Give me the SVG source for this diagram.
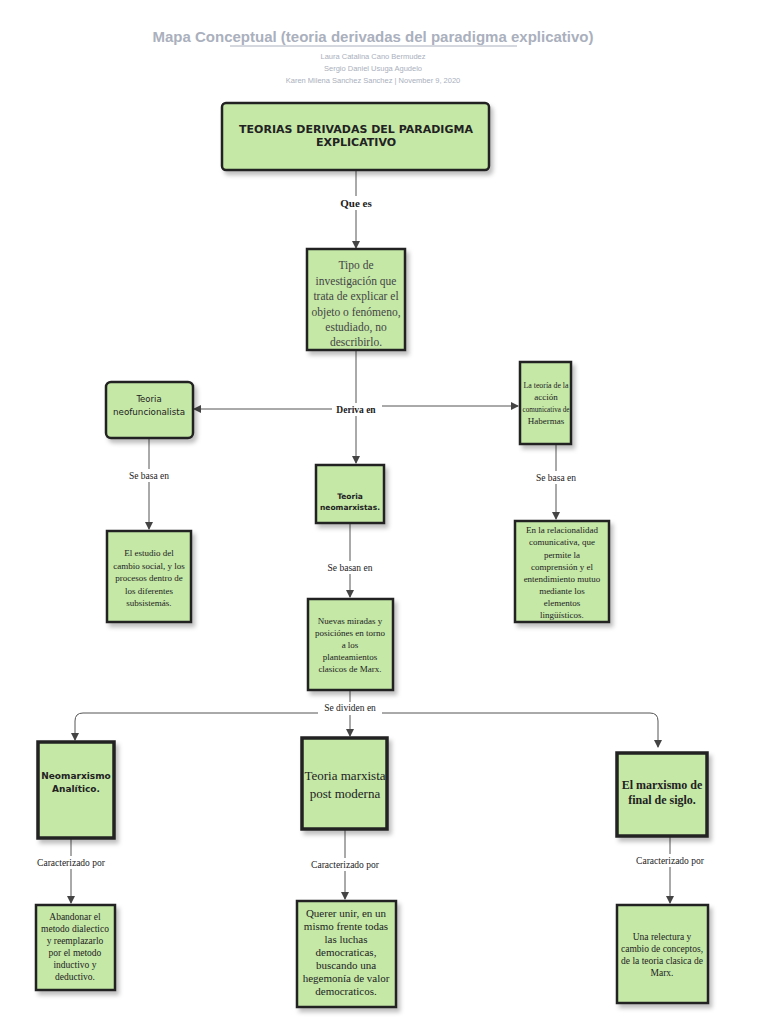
<svg xmlns="http://www.w3.org/2000/svg" width="768" height="1024" viewBox="0 0 768 1024">
<defs>
<marker id="ah" markerWidth="8" markerHeight="8" refX="7" refY="4" orient="auto" markerUnits="userSpaceOnUse"><path d="M0,0 L8,4 L0,8 z" fill="#444"/></marker>
<filter id="sh" x="-10%" y="-10%" width="130%" height="130%"><feDropShadow dx="3" dy="4" stdDeviation="2" flood-color="#000" flood-opacity="0.25"/></filter>
</defs>
<style>
.box{fill:#c5e8a7;stroke:#222;stroke-width:2.5;filter:url(#sh)}
.thick{stroke-width:3.5}
.t{font-family:"Liberation Serif",serif;fill:#222;text-anchor:middle}
.s{font-family:"DejaVu Sans",sans-serif;fill:#222;text-anchor:middle}
.lbl{font-family:"Liberation Serif",serif;fill:#222;text-anchor:middle}
.c{stroke:#555;stroke-width:1;fill:none}
.a{marker-end:url(#ah)}
.lbg{fill:#fff}
</style>
<rect width="768" height="1024" fill="#fff"/>
<g id="header">
<text x="373" y="42" font-family="Liberation Sans,sans-serif" font-size="15" font-weight="bold" fill="#aab0bd" text-anchor="middle">Mapa Conceptual (teoria derivadas del paradigma explicativo)</text>
<line x1="230" y1="46" x2="517" y2="46" stroke="#aab0bd" stroke-width="1"/>
<text x="373" y="59" font-family="Liberation Sans,sans-serif" font-size="7.5" fill="#aab0bd" text-anchor="middle">Laura Catalina Cano Bermudez</text>
<text x="373" y="71" font-family="Liberation Sans,sans-serif" font-size="7.5" fill="#aab0bd" text-anchor="middle">Sergio Daniel Usuga Agudelo</text>
<text x="373" y="83" font-family="Liberation Sans,sans-serif" font-size="7.5" fill="#aab0bd" text-anchor="middle">Karen Milena Sanchez Sanchez  |  November 9, 2020</text>
</g>
<g id="connectors" font-size="9.5">
<line class="c a" x1="356" y1="170" x2="356" y2="248"/>
<rect class="lbg" x="334" y="196" width="44" height="14"/>
<text class="lbl" x="356" y="207" font-weight="bold" font-size="11">Que es</text>
<line class="c a" x1="356" y1="350" x2="356" y2="463"/>
<line class="c a" x1="356" y1="409" x2="194" y2="409"/>
<line class="c a" x1="382" y1="406" x2="518" y2="406"/>
<rect class="lbg" x="332" y="403" width="48" height="13"/>
<text class="lbl" x="356" y="413" font-weight="bold">Deriva en</text>
<line class="c a" x1="149" y1="438" x2="149" y2="529"/>
<rect class="lbg" x="124" y="469" width="50" height="13"/>
<text class="lbl" x="149" y="479">Se basa en</text>
<line class="c a" x1="556" y1="444" x2="556" y2="519"/>
<rect class="lbg" x="531" y="471" width="50" height="13"/>
<text class="lbl" x="556" y="481">Se basa en</text>
<line class="c a" x1="350" y1="523" x2="350" y2="597"/>
<rect class="lbg" x="322" y="561" width="56" height="13"/>
<text class="lbl" x="350" y="571">Se basan en</text>
<line class="c a" x1="350" y1="690" x2="350" y2="736"/>
<path class="c a" d="M350,713 H83 Q75,713 75,721 V740"/>
<path class="c a" d="M350,713 H650 Q658,713 658,721 V747"/>
<rect class="lbg" x="318" y="702" width="64" height="13"/>
<text class="lbl" x="350" y="711">Se dividen en</text>
<line class="c a" x1="71" y1="823" x2="71" y2="903"/>
<rect class="lbg" x="30" y="856" width="82" height="13"/>
<text class="lbl" x="71" y="866">Caracterizado por</text>
<line class="c a" x1="345" y1="829" x2="345" y2="899"/>
<rect class="lbg" x="304" y="858" width="82" height="13"/>
<text class="lbl" x="345" y="868">Caracterizado por</text>
<line class="c a" x1="670" y1="836" x2="670" y2="903"/>
<rect class="lbg" x="629" y="854" width="82" height="13"/>
<text class="lbl" x="670" y="864">Caracterizado por</text>
</g>
<g id="n-top">
<rect class="box" x="222" y="103" width="267" height="67" rx="4"/>
<text x="356" y="133" font-family="DejaVu Sans,sans-serif" font-size="11" font-weight="bold" fill="#222" text-anchor="middle">TEORIAS DERIVADAS DEL PARADIGMA</text>
<text x="356" y="146" font-family="DejaVu Sans,sans-serif" font-size="11" font-weight="bold" fill="#222" text-anchor="middle">EXPLICATIVO</text>
</g>
<g id="n-tipo">
<rect class="box" x="307" y="249" width="98" height="101"/>
<g font-family="Liberation Serif,serif" font-size="11.5" fill="#444" text-anchor="middle">
<text x="356" y="269">Tipo de</text><text x="356" y="285">investigación que</text><text x="356" y="300">trata de explicar el</text><text x="356" y="316">objeto o fenómeno,</text><text x="356" y="331">estudiado, no</text><text x="356" y="346">describirlo.</text>
</g>
</g>
<g id="n-neofunc" font-size="8.5">
<rect class="box" x="106" y="382" width="87" height="56" rx="5"/>
<text class="s" x="149" y="402">Teoria</text><text class="s" x="149" y="415" textLength="72" lengthAdjust="spacingAndGlyphs">neofuncionalista</text>
</g>
<g id="n-habermas" font-size="9">
<rect class="box" x="520" y="362" width="51" height="82"/>
<text class="t" x="546" y="388" textLength="45" lengthAdjust="spacingAndGlyphs">La teoría de la</text><text class="t" x="546" y="400">acción</text><text class="t" x="546" y="412" textLength="47" lengthAdjust="spacingAndGlyphs">comunicativa de</text><text class="t" x="546" y="424">Habermas</text>
</g>
<g id="n-neomarx" font-size="7.5" font-weight="bold">
<rect class="box" x="316" y="465" width="68" height="58"/>
<text class="s" x="350" y="499">Teoria</text><text class="s" x="350" y="510">neomarxistas.</text>
</g>
<g id="n-cambio" font-size="9">
<rect class="box" x="107" y="531" width="84" height="91"/>
<text class="t" x="149" y="556">El estudio del</text><text class="t" x="149" y="569">cambio social, y los</text><text class="t" x="149" y="581">procesos dentro de</text><text class="t" x="149" y="594">los diferentes</text><text class="t" x="149" y="606">subsistemás.</text>
</g>
<g id="n-relacional" font-size="9">
<rect class="box" x="515" y="521" width="94" height="101"/>
<text class="t" x="562" y="533">En la relacionalidad</text><text class="t" x="562" y="545">comunicativa, que</text><text class="t" x="562" y="558">permite la</text><text class="t" x="562" y="570">comprensión y el</text><text class="t" x="562" y="582">entendimiento mutuo</text><text class="t" x="562" y="594">mediante los</text><text class="t" x="562" y="606">elementos</text><text class="t" x="562" y="618">lingüísticos.</text>
</g>
<g id="n-nuevas" font-size="9">
<rect class="box" x="308" y="599" width="85" height="91"/>
<text class="t" x="350" y="624">Nuevas miradas y</text><text class="t" x="350" y="636">posiciónes en torno</text><text class="t" x="350" y="648">a los</text><text class="t" x="350" y="660">planteamientos</text><text class="t" x="350" y="672">clasicos de Marx.</text>
</g>
<g id="n-analitico" font-size="9" font-weight="bold">
<rect class="box thick" x="38" y="742" width="76" height="96"/>
<text class="s" x="76" y="779">Neomarxismo</text><text class="s" x="76" y="792">Analítico.</text>
</g>
<g id="n-postmod" font-size="13">
<rect class="box thick" x="302" y="738" width="85" height="91"/>
<text class="t" x="345" y="780">Teoria marxista</text><text class="t" x="345" y="798">post moderna</text>
</g>
<g id="n-siglo" font-size="12" font-weight="bold">
<rect class="box thick" x="617" y="753" width="90" height="83"/>
<text class="t" x="662" y="789">El marxismo de</text><text class="t" x="662" y="804">final de siglo.</text>
</g>
<g id="n-abandonar" font-size="9.5">
<rect class="box" x="36" y="905" width="79" height="85"/>
<text class="t" x="75" y="920">Abandonar el</text><text class="t" x="75" y="932">metodo  dialectico</text><text class="t" x="75" y="944">y reemplazarlo</text><text class="t" x="75" y="956">por el metodo</text><text class="t" x="75" y="968">inductivo y</text><text class="t" x="75" y="980">deductivo.</text>
</g>
<g id="n-querer" font-size="11">
<rect class="box" x="297" y="901" width="99" height="106"/>
<text class="t" x="346" y="917">Querer unir, en un</text><text class="t" x="346" y="930">mismo frente todas</text><text class="t" x="346" y="943">las luchas</text><text class="t" x="346" y="956">democraticas,</text><text class="t" x="346" y="969">buscando una</text><text class="t" x="346" y="982">hegemonía de valor</text><text class="t" x="346" y="995">democraticos.</text>
</g>
<g id="n-relectura" font-size="9.5">
<rect class="box" x="617" y="905" width="91" height="98"/>
<text class="t" x="662" y="940">Una relectura y</text><text class="t" x="662" y="952">cambio de conceptos,</text><text class="t" x="662" y="964">de la teoria clasica de</text><text class="t" x="662" y="976">Marx.</text>
</g>
</svg>
